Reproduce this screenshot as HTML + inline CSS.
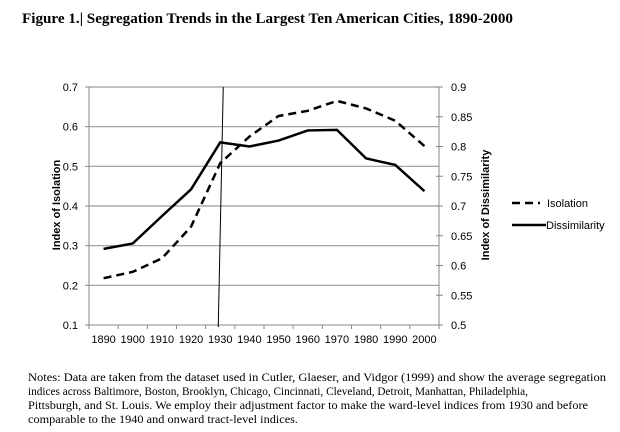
<!DOCTYPE html>
<html><head><meta charset="utf-8"><style>
html,body{margin:0;padding:0;background:#fff;}
svg{display:block;}
</style></head><body>
<svg id="chart" width="620" height="432" xmlns="http://www.w3.org/2000/svg">
<text x="22" y="23" font-family="Liberation Serif, serif" font-weight="bold" font-size="14.5" textLength="491" lengthAdjust="spacingAndGlyphs">Figure 1.| Segregation Trends in the Largest Ten American Cities, 1890-2000</text>
<g id="grid"></g>
<g id="axes"></g>
<g id="series"></g>
<text transform="translate(60,205) rotate(-90)" text-anchor="middle" font-family="Liberation Sans, sans-serif" font-weight="bold" font-size="11">Index of Isolation</text>
<text transform="translate(489,205) rotate(-90)" text-anchor="middle" font-family="Liberation Sans, sans-serif" font-weight="bold" font-size="11">Index of Dissimilarity</text>
<g>
<g>
<line x1="512" y1="203" x2="540" y2="203" stroke="#000" stroke-width="2.5" stroke-dasharray="8,5"/>
<text x="547" y="207" font-family="Liberation Sans, sans-serif" font-size="11">Isolation</text></g>
<g>
<line x1="512" y1="225" x2="546" y2="225" stroke="#000" stroke-width="2.5"/>
<text x="546" y="229" font-family="Liberation Sans, sans-serif" font-size="11">Dissimilarity</text></g>
</g>
<g font-family="Liberation Serif, serif" font-size="11.5">
<text x="28" y="381" textLength="578" lengthAdjust="spacingAndGlyphs">Notes:  Data are taken from the dataset used in Cutler, Glaeser, and Vidgor (1999) and show the average segregation</text>
<text x="28" y="395" textLength="500" lengthAdjust="spacingAndGlyphs">indices across Baltimore, Boston, Brooklyn, Chicago, Cincinnati, Cleveland, Detroit, Manhattan, Philadelphia,</text>
<text x="28" y="409" textLength="560" lengthAdjust="spacingAndGlyphs">Pittsburgh, and St. Louis.  We employ their adjustment factor to make the ward-level indices from 1930 and before</text>
<text x="28" y="423" textLength="270" lengthAdjust="spacingAndGlyphs">comparable to the 1940 and onward tract-level indices.</text>
</g>
</svg>
<script>
const years = ["1890","1900","1910","1920","1930","1940","1950","1960","1970","1980","1990","2000"];
const isolation = [0.218,0.234,0.268,0.348,0.508,0.575,0.627,0.640,0.665,0.646,0.615,0.551];
const dissimilarity = [0.628,0.637,0.683,0.728,0.807,0.800,0.810,0.827,0.828,0.780,0.769,0.725];
const leftTicks = [0.1,0.2,0.3,0.4,0.5,0.6,0.7];
const rightTicks = [0.5,0.55,0.6,0.65,0.7,0.75,0.8,0.85,0.9];

const NS="http://www.w3.org/2000/svg";
const X0=89,X1=439,Y0=87,Y1=325;
const bw=(X1-X0)/years.length;
const xC=i=>X0+bw*(i+0.5);
const yL=v=>Y1-(v-0.1)/0.6*(Y1-Y0);
const yR=v=>Y1-(v-0.5)/0.4*(Y1-Y0);
function mk(tag,attrs,parent){const e=document.createElementNS(NS,tag);for(const k in attrs)e.setAttribute(k,attrs[k]);parent.appendChild(e);return e;}
const grid=document.getElementById('grid'),axes=document.getElementById('axes'),series=document.getElementById('series');
const font="Liberation Sans, sans-serif";
leftTicks.forEach(t=>{
  const y=yL(t);
  if(t>0.1){const g=mk('line',{x1:X0,x2:X1,y1:y,y2:y,stroke:'#9a9a9a','stroke-width':1.2},grid);
  
  }
  mk('line',{x1:X0-4,x2:X0,y1:y,y2:y,stroke:'#888'},axes);
  const tx=mk('text',{x:X0-11,y:y+4,'text-anchor':'end','font-family':font,'font-size':11},axes);
  tx.textContent=t.toFixed(1);
  
  
});
rightTicks.forEach(t=>{
  const y=yR(t);
  mk('line',{x1:X1-3,x2:X1+4,y1:y,y2:y,stroke:'#888'},axes);
  const tx=mk('text',{x:X1+12,y:y+4,'font-family':font,'font-size':11},axes);
  tx.textContent=String(t);
  
  
});
mk('line',{x1:X0,x2:X0,y1:Y0,y2:Y1,stroke:'#888'},axes);
mk('line',{x1:X1,x2:X1,y1:Y0,y2:Y1,stroke:'#888'},axes);
mk('line',{x1:X0,x2:X1,y1:Y1,y2:Y1,stroke:'#888'},axes);
years.forEach((yr,i)=>{
  mk('line',{x1:X0+bw*i,x2:X0+bw*i,y1:Y1,y2:Y1+4,stroke:'#888'},axes);
  const tx=mk('text',{x:xC(i),y:Y1+18,'text-anchor':'middle','font-family':font,'font-size':11},axes);
  tx.textContent=yr;
  
  
});
mk('line',{x1:X1,x2:X1,y1:Y1,y2:Y1+4,stroke:'#888'},axes);
// vertical break line near 1930
const vl=mk('line',{x1:X0+bw*4.5+3,y1:Y0,x2:X0+bw*4.5-2,y2:Y1+2,stroke:'#000','stroke-width':1},series);


const pi=mk('polyline',{points:isolation.map((v,i)=>xC(i)+','+yL(v)).join(' '),fill:'none',stroke:'#000','stroke-width':2.5,'stroke-dasharray':'8,5'},series);


const pd=mk('polyline',{points:dissimilarity.map((v,i)=>xC(i)+','+yR(v)).join(' '),fill:'none',stroke:'#000','stroke-width':2.5},series);


</script>
</body></html>
